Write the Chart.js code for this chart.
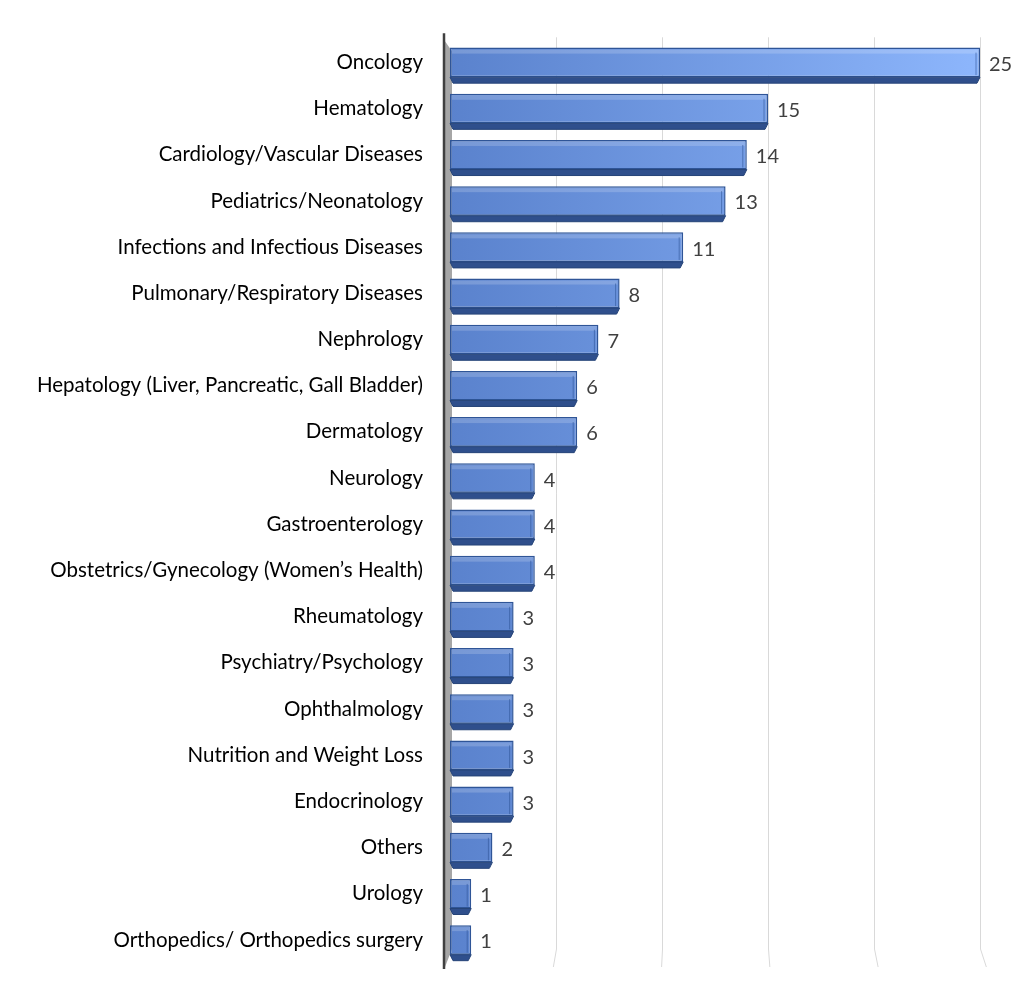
<!DOCTYPE html>
<html>
<head>
<meta charset="utf-8">
<script src="https://cdn.jsdelivr.net/npm/chart.js@4.4.1/dist/chart.umd.min.js"></script>
<style>
  html, body { margin: 0; padding: 0; background: #fff; }
  #wrap { width: 1016px; height: 1003px; }
</style>
</head>
<body>
<div id="wrap"><canvas id="chart" width="1016" height="1003"></canvas></div>
<script>
// dados do gráfico
const categories = [
  'Oncology',
  'Hematology',
  'Cardiology/Vascular Diseases',
  'Pediatrics/Neonatology',
  'Infections and Infectious Diseases',
  'Pulmonary/Respiratory Diseases',
  'Nephrology',
  'Hepatology (Liver, Pancreatic, Gall Bladder)',
  'Dermatology',
  'Neurology',
  'Gastroenterology',
  'Obstetrics/Gynecology (Women\u2019s Health)',
  'Rheumatology',
  'Psychiatry/Psychology',
  'Ophthalmology',
  'Nutrition and Weight Loss',
  'Endocrinology',
  'Others',
  'Urology',
  'Orthopedics/ Orthopedics surgery'
];
const counts = [25, 15, 14, 13, 11, 8, 7, 6, 6, 4, 4, 4, 3, 3, 3, 3, 3, 2, 1, 1];
const xTicks = [0, 5, 10, 15, 20, 25];

const FONT = 'Lato, "Open Sans", sans-serif';

// parede lateral, linhas de grade e eixo
const backdrop = {
  id: 'backdrop',
  beforeDatasetsDraw(chart) {
    const { ctx, chartArea } = chart;
    const xs = chart.scales.x;
    const top = chartArea.top - 2;
    const bottom = chartArea.bottom;
    ctx.save();
    ctx.strokeStyle = '#d9d9d9';
    ctx.lineWidth = 1;
    xTicks.forEach(v => {
      if (v === 0) return;
      const px = Math.round(xs.getPixelForValue(v)) + 0.5;
      const lean = (v - 12) * 0.45;
      ctx.beginPath();
      ctx.moveTo(px, top);
      ctx.lineTo(px, bottom - 14);
      ctx.lineTo(px + lean, bottom + 4);
      ctx.stroke();
    });
    // parede cinza
    const x0 = xs.getPixelForValue(0);
    ctx.fillStyle = '#a6a6a6';
    ctx.beginPath();
    ctx.moveTo(x0 - 5, top + 4);
    ctx.lineTo(x0 + 2, top + 14);
    ctx.lineTo(x0 + 2, bottom - 14);
    ctx.lineTo(x0 - 5, bottom + 4);
    ctx.closePath();
    ctx.fill();
    ctx.strokeStyle = '#404040';
    ctx.lineWidth = 2.5;
    ctx.beginPath();
    ctx.moveTo(x0 - 6, top - 4);
    ctx.lineTo(x0 - 6, bottom + 6);
    ctx.stroke();
    ctx.restore();
  }
};

// efeito 3D das barras + rótulos de valor
const bars3d = {
  id: 'bars3d',
  afterDatasetsDraw(chart) {
    const { ctx } = chart;
    const meta = chart.getDatasetMeta(0);
    ctx.save();
    meta.data.forEach((bar, i) => {
      const { x, y, base, height } = bar.getProps(['x', 'y', 'base', 'height'], true);
      const t = y - height / 2;
      const b = y + height / 2;
      // faixa escura inferior
      ctx.fillStyle = '#2f4f8c';
      ctx.beginPath();
      ctx.moveTo(base, b);
      ctx.lineTo(x, b);
      ctx.lineTo(x - 3, b + 6);
      ctx.lineTo(base + 3, b + 6);
      ctx.closePath();
      ctx.fill();
      ctx.strokeStyle = '#264478';
      ctx.lineWidth = 1;
      ctx.stroke();
      // brilho superior
      ctx.fillStyle = 'rgba(255,255,255,0.18)';
      ctx.fillRect(base + 2, t + 2, x - base - 4, 4);
      // chanfro na ponta
      ctx.strokeStyle = 'rgba(47,85,151,0.6)';
      ctx.beginPath();
      ctx.moveTo(x - 4, t + 5);
      ctx.lineTo(x - 4, b - 2);
      ctx.stroke();
      // rótulo
      ctx.fillStyle = '#404040';
      ctx.font = '20px ' + FONT;
      ctx.textAlign = 'left';
      ctx.textBaseline = 'middle';
      ctx.fillText(String(counts[i]), x + 9, y + 2);
    });
    ctx.restore();
  }
};

const canvas = document.getElementById('chart');
const ctx = canvas.getContext('2d');

new Chart(ctx, {
  type: 'bar',
  data: {
    labels: categories,
    datasets: [{
      data: counts,
      backgroundColor(c) {
        const area = c.chart.chartArea;
        if (!area) return '#6a93dc';
        const g = c.chart.ctx.createLinearGradient(area.left, 0, area.right, 0);
        g.addColorStop(0, '#5a82cd');
        g.addColorStop(1, '#8db6fc');
        return g;
      },
      borderColor: '#2f5597',
      borderWidth: 1.5,
      borderSkipped: false,
      categoryPercentage: 1,
      barPercentage: 0.64
    }]
  },
  options: {
    indexAxis: 'y',
    responsive: false,
    animation: false,
    layout: { padding: { top: 39, bottom: 40, right: 36, left: 0 } },
    plugins: {
      legend: { display: false },
      tooltip: { enabled: false }
    },
    scales: {
      x: {
        display: false,
        min: 0,
        max: 25,
        ticks: { stepSize: 5 }
      },
      y: {
        afterFit(scale) { scale.width = 450; },
        grid: { display: false, drawTicks: false },
        border: { display: false },
        ticks: {
          padding: 27,
          color: '#000',
          font: { family: FONT, size: 20.5 },
          autoSkip: false
        }
      }
    }
  },
  plugins: [backdrop, bars3d]
});
</script>
</body>
</html>
